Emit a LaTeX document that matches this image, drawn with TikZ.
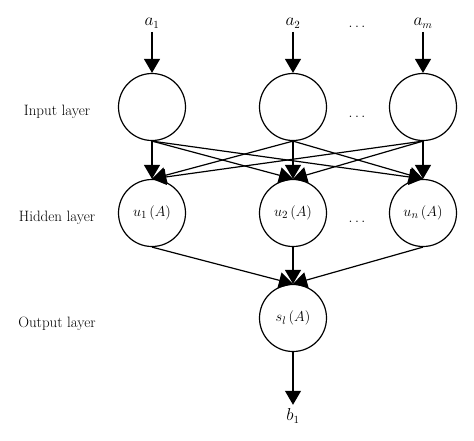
\documentclass[tikz,border=0pt]{standalone}
\usetikzlibrary{positioning,arrows.meta}

\begin{document}
\begin{tikzpicture}[x=1pt,y=1pt,line width=1.2pt,
    neuron/.style={circle,draw,minimum size=67pt,inner sep=0pt,font=\fontsize{15}{17}\selectfont},
    lbl/.style={font=\fontsize{15}{17}\selectfont},
    sig/.style={font=\fontsize{16}{18}\selectfont},
    >={Triangle[length=14pt,width=16pt]}]
     \useasboundingbox (0,0) rectangle (474,-440);
     % input layer
     \node[neuron] (in1) at (152,-107) {};
     \node[neuron,right of=in1,node distance=141pt] (in2) {};
     \node[neuron,right of=in2,node distance=130pt] (in3) {};
     % hidden layer
     \node[neuron,below of=in1,node distance=106pt] (hid1) {$u_1\,(A)$};
     \node[neuron,below of=in2,node distance=106pt] (hid2) {$u_2\,(A)$};
     \node[neuron,below of=in3,node distance=106pt] (hid3) {$u_n\,(A)$};
     % output layer
     \node[neuron,below of=hid2,node distance=105pt] (out) {$s_l\,(A)$};
     % inputs and output
     \node[sig] (a1) at (152,-23) {$a_1$};
     \node[sig] (a2) at (293,-23) {$a_2$};
     \node[sig] (am) at (423,-23) {$a_m$};
     \node[sig] (b1) at (293,-416) {$b_1$};
     % dots
     \node[lbl] (dotsa) at (357,-27) {$\ldots$};
     \node[lbl] (dotsin) at (357,-117) {$\ldots$};
     \node[lbl] (dotshid) at (357,-222) {$\ldots$};
     % layer names
     \node[lbl] (inlbl) at (57,-112) {Input layer};
     \node[lbl] (hidlbl) at (57,-218) {Hidden layer};
     \node[lbl] (outlbl) at (57,-324) {Output layer};
     \draw[->] (a1) to (in1);
     \draw[->] (a2) to (in2);
     \draw[->] (am) to (in3);
     \foreach \i in {1,2,3}
       \foreach \j in {1,2,3}
         \draw[->] (in\i.south) to (hid\j.north);
     \foreach \j in {1,2,3}
       \draw[->] (hid\j.south) to (out.north);
     \draw[->] (out) to (b1);
   \end{tikzpicture}
\end{document}
